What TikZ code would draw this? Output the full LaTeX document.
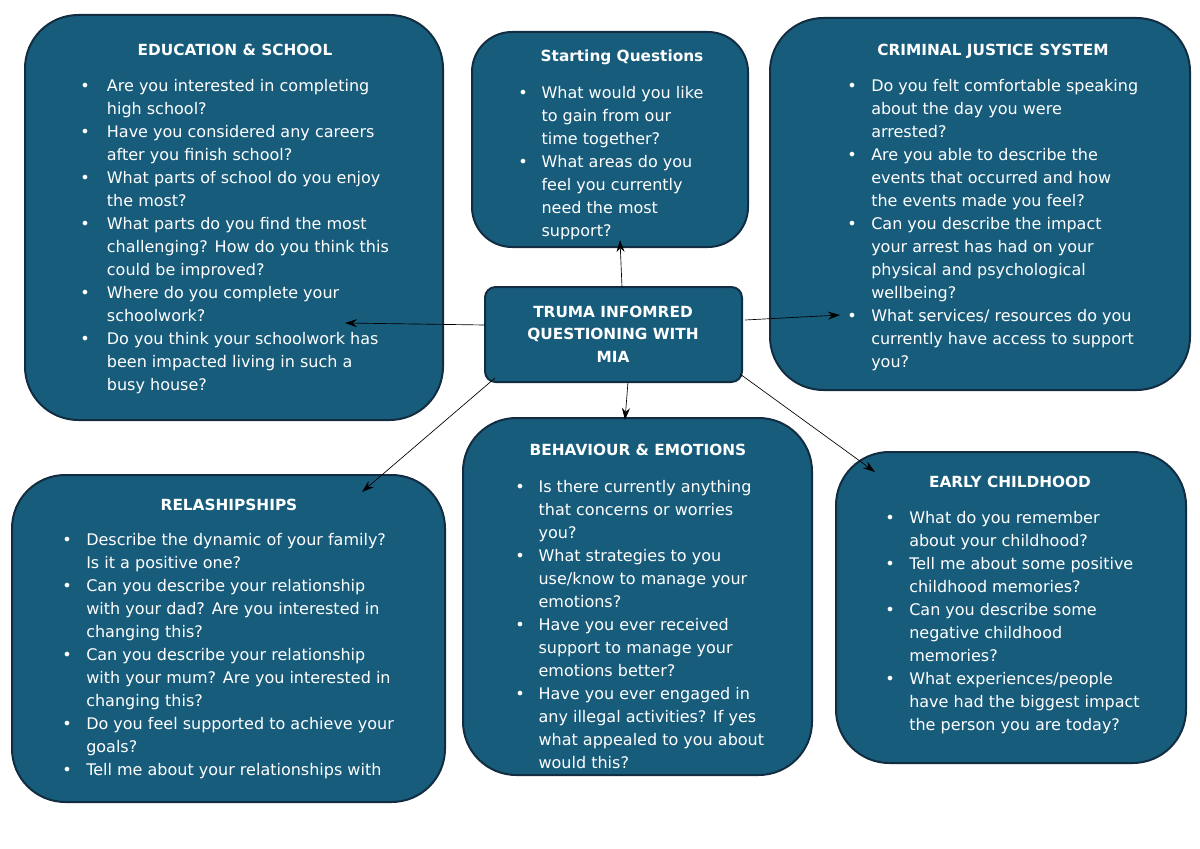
\documentclass[tikz,border=0pt]{standalone}
\usepackage{fontspec}
\setmainfont{DejaVu Sans}
\usetikzlibrary{arrows.meta}
\definecolor{boxfill}{RGB}{24,92,124}
\definecolor{boxline}{RGB}{18,45,65}
\tikzset{
 panel/.style={draw=boxline,fill=boxfill,line width=1.5pt,rounded corners=#1},
 ttl/.style={text=white,font=\bfseries\fontsize{11.5}{14}\selectfont,inner sep=0pt},
 txt/.style={text=white,anchor=north west,inner sep=0pt,font=\fontsize{12}{17.25}\selectfont},
 arr/.style={-{Stealth[length=9pt,width=6pt]},line width=0.5pt,black}
}
\newcommand{\lst}[2]{\begin{tabular}{@{}p{#1}@{}l@{}}#2\end{tabular}}
\begin{document}
\begin{tikzpicture}[x=0.75pt,y=-0.75pt]
\useasboundingbox (0,0) rectangle (1200,849);
% boxes
\draw[panel=40pt] (25,15) rectangle (443,420);
\draw[panel=30pt] (472,32) rectangle (748,247);
\draw[panel=40pt] (770,18) rectangle (1190,390);
\draw[panel=8pt] (485,287) rectangle (742,382);
\draw[panel=40pt] (12,475) rectangle (445,802);
\draw[panel=40pt] (463,418) rectangle (812,775);
\draw[panel=40pt] (836,452) rectangle (1186,763);
% titles
\node[ttl] (t1) at (235,50) {EDUCATION \& SCHOOL};
\node[ttl] (t2) at (622,57) {Starting Questions};
\node[ttl] (t3) at (993,51) {CRIMINAL JUSTICE SYSTEM};
\node[ttl] (t5) at (229,505) {RELASHIPSHIPS};
\node[ttl] (t6) at (638,450) {BEHAVIOUR \& EMOTIONS};
\node[ttl] (t7) at (1010,482) {EARLY CHILDHOOD};
\node[ttl,align=center,font=\bfseries\fontsize{11.5}{17}\selectfont] (c) at (613,334) {TRUMA INFOMRED\\QUESTIONING WITH\\MIA};
% texts
\node[txt] (e) at (80,75) {\lst{20pt}{%
\textbullet & Are you interested in completing\\ & high school?\\
\textbullet & Have you considered any careers\\ & after you finish school?\\
\textbullet & What parts of school do you enjoy\\ & the most?\\
\textbullet & What parts do you find the most\\ & challenging? How do you think this\\ & could be improved?\\
\textbullet & Where do you complete your\\ & schoolwork?\\
\textbullet & Do you think your schoolwork has\\ & been impacted living in such a\\ & busy house?}};
\begin{scope}
\clip[rounded corners=30pt] (472,32) rectangle (748,247);
\node[txt] (s) at (518,82) {\lst{17.5pt}{%
\textbullet & What would you like\\ & to gain from our\\ & time together?\\
\textbullet & What areas do you\\ & feel you currently\\ & need the most\\ & support?}};
\end{scope}
\node[txt] (cj) at (847,75) {\lst{18pt}{%
\textbullet & Do you felt comfortable speaking\\ & about the day you were\\ & arrested?\\
\textbullet & Are you able to describe the\\ & events that occurred and how\\ & the events made you feel?\\
\textbullet & Can you describe the impact\\ & your arrest has had on your\\ & physical and psychological\\ & wellbeing?\\
\textbullet & What services/ resources do you\\ & currently have access to support\\ & you?}};
\node[txt] (r) at (62,529) {\lst{18pt}{%
\textbullet & Describe the dynamic of your family?\\ & Is it a positive one?\\
\textbullet & Can you describe your relationship\\ & with your dad? Are you interested in\\ & changing this?\\
\textbullet & Can you describe your relationship\\ & with your mum? Are you interested in\\ & changing this?\\
\textbullet & Do you feel supported to achieve your\\ & goals?\\
\textbullet & Tell me about your relationships with}};
\begin{scope}
\clip[rounded corners=40pt] (463,418) rectangle (812,775);
\node[txt] (b) at (515,476) {\lst{17.5pt}{%
\textbullet & Is there currently anything\\ & that concerns or worries\\ & you?\\
\textbullet & What strategies to you\\ & use/know to manage your\\ & emotions?\\
\textbullet & Have you ever received\\ & support to manage your\\ & emotions better?\\
\textbullet & Have you ever engaged in\\ & any illegal activities? If yes\\ & what appealed to you about\\ & would this?}};
\end{scope}
\node[txt] (ec) at (885,507) {\lst{18pt}{%
\textbullet & What do you remember\\ & about your childhood?\\
\textbullet & Tell me about some positive\\ & childhood memories?\\
\textbullet & Can you describe some\\ & negative childhood\\ & memories?\\
\textbullet & What experiences/people\\ & have had the biggest impact\\ & the person you are today?}};
% arrows
\coordinate (a1s) at (485,325); \coordinate (a1e) at (345,323);
\coordinate (a2s) at (622,287); \coordinate (a2e) at (620,240);
\coordinate (a3s) at (745,320); \coordinate (a3e) at (840,315);
\coordinate (a4s) at (495,378); \coordinate (a4e) at (362,492);
\coordinate (a5s) at (628,382); \coordinate (a5e) at (625,420);
\coordinate (a6s) at (740,374); \coordinate (a6e) at (875,472);
\foreach \i in {1,...,6} \draw[arr] (a\i s) -- (a\i e);
\end{tikzpicture}
\end{document}
